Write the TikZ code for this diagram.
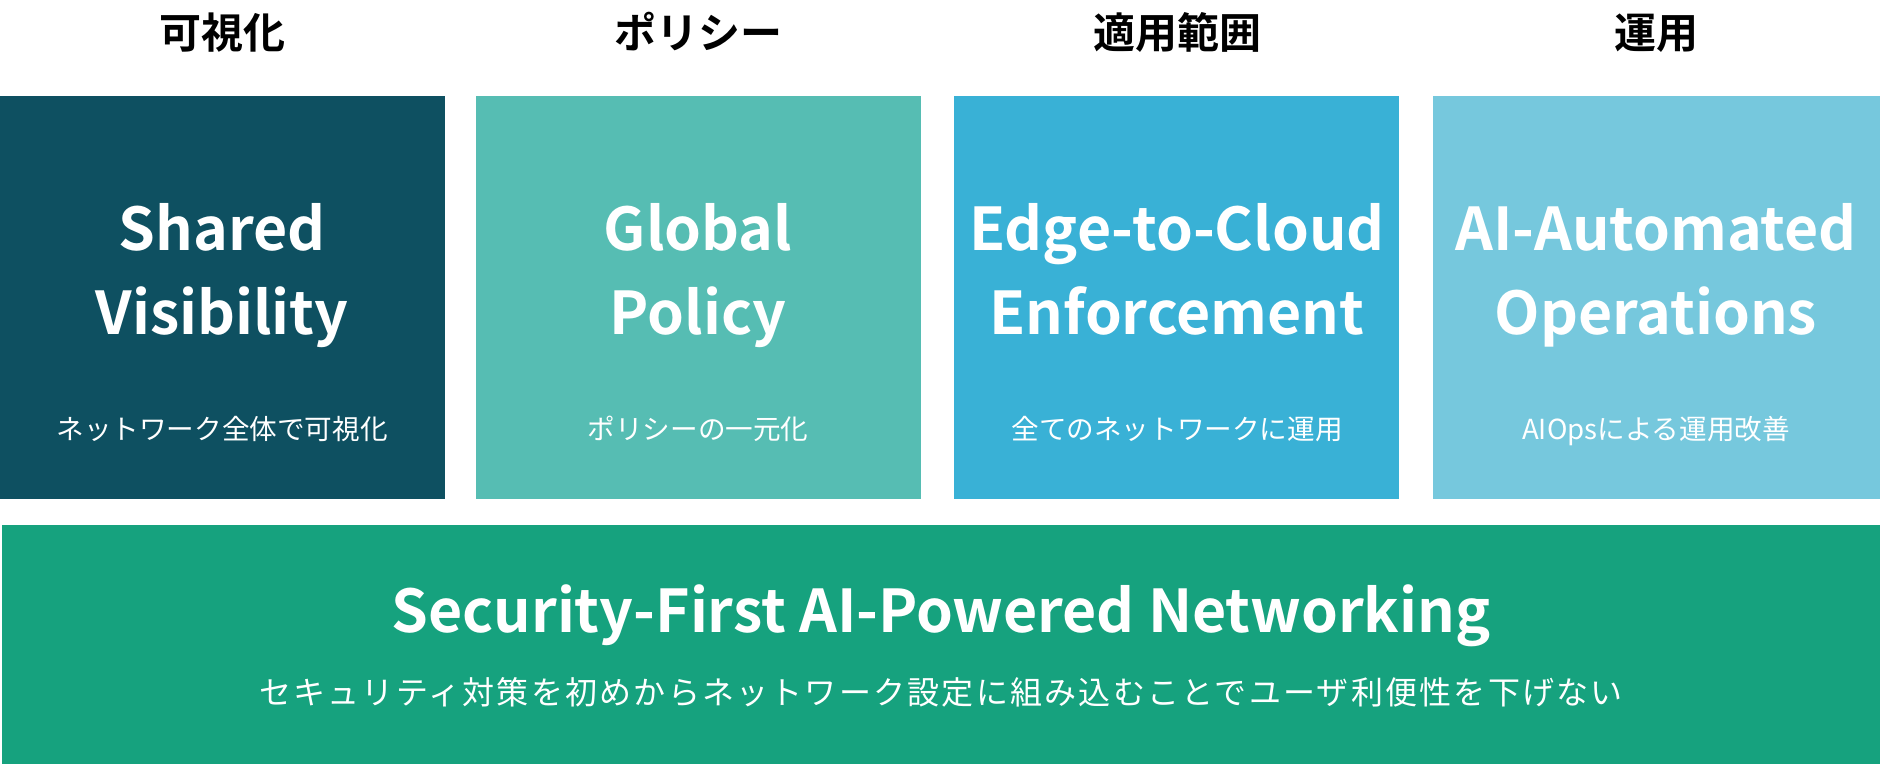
\documentclass[tikz,border=0pt]{standalone}
\usepackage{fontspec}
\setmainfont{Noto Sans CJK JP}[BoldFont={Noto Sans CJK JP Bold}]
\newfontfamily\spacedjp{Noto Sans CJK JP}[LetterSpace=7]
\definecolor{cA}{HTML}{0E5061}
\definecolor{cB}{HTML}{56BDB3}
\definecolor{cC}{HTML}{39B1D6}
\definecolor{cD}{HTML}{76C8DD}
\definecolor{cE}{HTML}{16A27E}
\tikzset{
  head/.style={anchor=base, inner sep=0pt, font=\bfseries\fontsize{42}{50}\selectfont, text=black},
  ttl/.style={anchor=base, inner sep=0pt, font=\bfseries\fontsize{59}{70}\selectfont, text=white},
  sub/.style={anchor=base, inner sep=0pt, font=\fontsize{27.6}{32}\selectfont, text=white},
  bsub/.style={anchor=base, inner sep=0pt, font=\spacedjp\fontsize{32}{38}\selectfont, text=white},
}
\begin{document}
\begin{tikzpicture}[x=1pt,y=-1pt]
\useasboundingbox (0,0) rectangle (1880,764);
\fill[white] (0,0) rectangle (1880,764);
% panels
\fill[cA] (0,96) rectangle (445,499);
\fill[cB] (476,96) rectangle (921,499);
\fill[cC] (954,96) rectangle (1399,499);
\fill[cD] (1433,96) rectangle (1880,499);
\fill[cE] (2,525) rectangle (1880,764);
% headers
\node[head] (h1) at (222,48) {可視化};
\node[head] (h2) at (698,48) {ポリシー};
\node[head] (h3) at (1177,48) {適用範囲};
\node[head] (h4) at (1656,48) {運用};
% titles
\node[ttl] (t1a) at (222,250) {Shared};
\node[ttl] (t1b) at (222,334) {Visibility};
\node[ttl] (t2a) at (698,250) {Global};
\node[ttl] (t2b) at (698,334) {Policy};
\node[ttl] (t3a) at (1177,250) {Edge-to-Cloud};
\node[ttl] (t3b) at (1177,334) {Enforcement};
\node[ttl] (t4a) at (1656,250) {AI-Automated};
\node[ttl] (t4b) at (1656,334) {Operations};
% subtitles
\node[sub] (s1) at (222,439) {ネットワーク全体で可視化};
\node[sub] (s2) at (698,439) {ポリシーの一元化};
\node[sub] (s3) at (1177,439) {全てのネットワークに運用};
\node[sub] (s4) at (1656,439) {AIOpsによる運用改善};
% bottom
\node[ttl] (bt) at (941,632) {Security-First AI-Powered Networking};
\node[bsub] (bs) at (941,704) {セキュリティ対策を初めからネットワーク設定に組み込むことでユーザ利便性を下げない};
\end{tikzpicture}
\end{document}
